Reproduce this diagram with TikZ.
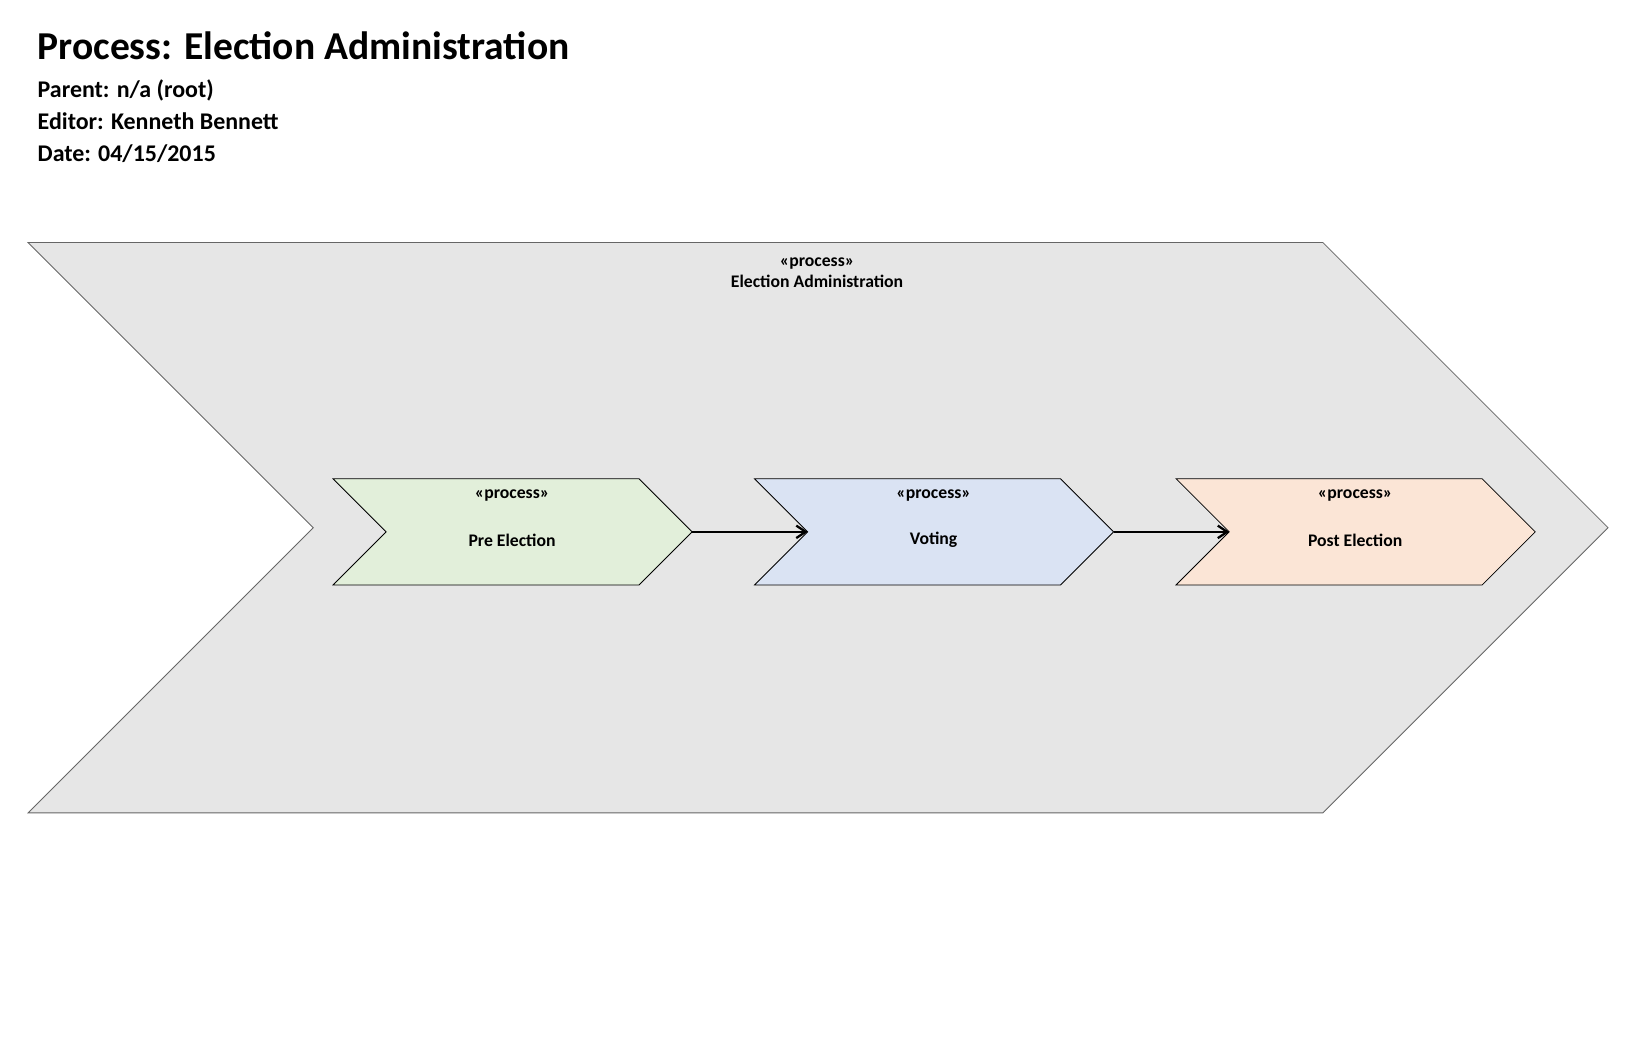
\documentclass[tikz,border=0pt]{standalone}
\usepackage{fontspec}
\setmainfont{Carlito}
\begin{document}
\begin{tikzpicture}[x=1pt,y=-1pt,
  chev/.style={draw=black, line width=0.8pt},
  lbl/.style={font=\bfseries\fontsize{17}{20}\selectfont, anchor=center},
  arr/.style={line width=2.2pt, -{Straight Barb[length=9pt,width=12pt]}}]
\usetikzlibrary{arrows.meta}
\useasboundingbox (0,0) rectangle (1568,1015);
\node[anchor=north west, inner sep=0, font=\bfseries\fontsize{38}{44}\selectfont] (title) at (36,30) {Process: Election Administration};
\node[anchor=north west, inner sep=0, align=left, font=\bfseries\fontsize{23}{31}\selectfont] (meta) at (36,76) {Parent: n/a (root)\\Editor: Kenneth Bennett\\Date: 04/15/2015};
\draw[fill={rgb,255:red,230;green,230;blue,230}, draw=black!60, line width=0.8pt] (27,233) -- (1271,233) -- (1545,507) -- (1271,781) -- (27,781) -- (301,507) -- cycle;
\node[lbl] (outer) at (785,262) {\fontsize{17}{25}\selectfont\shortstack{<<process>>\\[3pt]Election Administration}};
\foreach \n/\x/\c/\t in {pre/320/E2EFDA/Pre Election, vot/725/DAE3F3/Voting, post/1130/FBE5D6/Post Election}{
  \definecolor{fc}{HTML}{\c}
  \draw[chev, fill=fc] (\x,460) -- (\x+294,460) -- (\x+345,511) -- (\x+294,562) -- (\x,562) -- (\x+51,511) -- cycle;
  \coordinate (\n tip) at (\x+345,511);
  \coordinate (\n notch) at (\x+51,511);
  \node[lbl] (\n s) at (\x+172,476) {<<process>>};
  \node[lbl] (\n) at (\x+172,519) {\t};
}
\draw[arr] (pretip) -- (votnotch);
\draw[arr] (vottip) -- (postnotch);
\end{tikzpicture}
\end{document}
